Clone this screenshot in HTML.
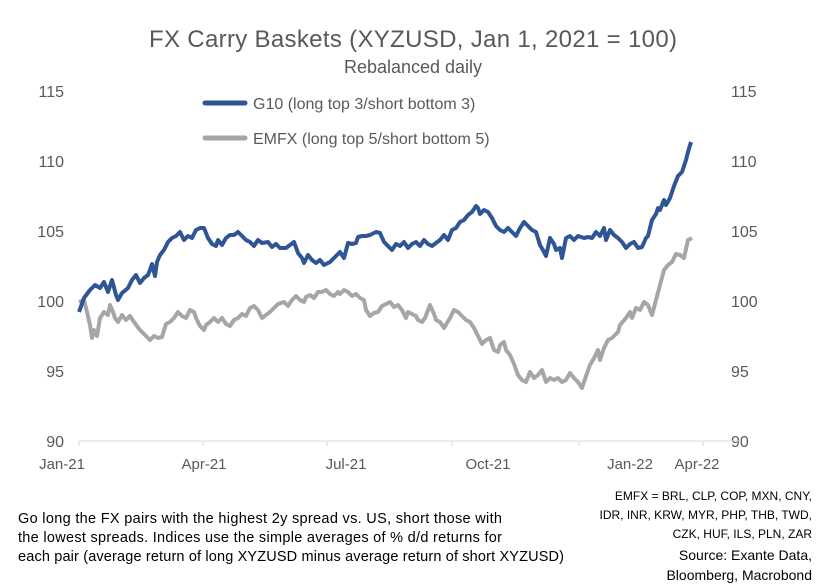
<!DOCTYPE html>
<html><head><style>
body{margin:0;background:#fff;width:826px;height:583px;overflow:hidden}
text{font-family:"Liberation Sans",sans-serif;fill:#595959}
</style></head><body>
<svg width="826" height="583" xmlns="http://www.w3.org/2000/svg">
<text x="413" y="47" font-size="24" text-anchor="middle" textLength="528">FX Carry Baskets (XYZUSD, Jan 1, 2021 = 100)</text>
<text x="413" y="73" font-size="18" text-anchor="middle">Rebalanced daily</text>
<g font-size="16" text-anchor="end">
<text x="64" y="97">115</text><text x="64" y="167">110</text><text x="64" y="237">105</text><text x="64" y="307">100</text><text x="64" y="377">95</text><text x="64" y="447">90</text>
</g>
<g font-size="16">
<text x="731" y="97">115</text><text x="731" y="167">110</text><text x="731" y="237">105</text><text x="731" y="307">100</text><text x="731" y="377">95</text><text x="731" y="447">90</text>
</g>
<line x1="79" y1="441" x2="741" y2="441" stroke="#d9d9d9" stroke-width="1"/>
<g stroke="#d9d9d9"><line x1="79" y1="441" x2="79" y2="446"/><line x1="203" y1="441" x2="203" y2="446"/><line x1="327" y1="441" x2="327" y2="446"/><line x1="452" y1="441" x2="452" y2="446"/><line x1="579" y1="441" x2="579" y2="446"/><line x1="703" y1="441" x2="703" y2="446"/></g>
<g font-size="15" text-anchor="middle">
<text x="62" y="469">Jan-21</text><text x="204" y="469">Apr-21</text><text x="346" y="469">Jul-21</text><text x="488" y="469">Oct-21</text><text x="630" y="469">Jan-22</text><text x="697" y="469">Apr-22</text>
</g>
<line x1="205" y1="103" x2="245" y2="103" stroke="#2f5597" stroke-width="5" stroke-linecap="round"/>
<text x="253" y="109" font-size="16">G10 (long top 3/short bottom 3)</text>
<line x1="205" y1="138" x2="245" y2="138" stroke="#a6a6a6" stroke-width="5" stroke-linecap="round"/>
<text x="253" y="144" font-size="16">EMFX (long top 5/short bottom 5)</text>
<polyline fill="none" stroke="#a6a6a6" stroke-width="4" stroke-linejoin="round" points="79,302 84,300 87,312 90,325 92,338 94,330 97,336 100,318 104,312 108,315 110,305 113,312 115,318 118,322 122,315 126,320 130,316 134,322 140,330 144,334 148,338 150,340 154,336 158,338 162,337 166,324 170,322 174,318 178,312 182,316 186,318 190,310 194,312 196,318 200,326 204,330 206,325 210,322 214,318 218,322 222,318 226,324 230,326 234,320 238,318 242,314 246,316 250,308 254,306 258,310 262,318 266,315 270,312 274,308 278,304 284,302 288,306 292,300 296,296 300,300 304,302 306,297 310,295 314,298 318,292 322,292 326,290 330,294 334,296 338,292 340,294 344,290 348,292 352,296 356,294 360,298 364,300 366,310 370,316 374,313 378,312 382,306 386,304 390,302 394,307 398,305 402,310 406,318 408,312 412,314 416,316 418,320 422,322 425,318 430,305 434,314 436,320 440,322 444,328 450,318 454,310 458,312 462,316 466,320 470,322 474,328 478,336 482,344 486,340 490,338 494,350 498,352 500,345 504,342 506,350 510,355 514,364 518,375 522,380 526,382 530,372 534,378 538,375 542,370 546,382 550,378 554,380 558,378 562,382 566,380 570,373 574,378 578,382 582,388 586,376 590,365 594,358 598,350 600,360 604,348 608,340 612,338 618,332 620,325 626,318 630,312 632,318 636,308 640,310 644,302 648,305 652,315 656,300 660,285 664,270 668,265 672,262 676,254 680,255 684,258 688,240 692,238"/>
<polyline fill="none" stroke="#2f5597" stroke-width="4" stroke-linejoin="round" points="79,312 84,298 90,290 95,285 100,288 104,282 108,292 112,280 116,295 118,300 122,293 128,288 132,280 136,275 140,283 144,278 148,275 150,270 152,264 155,276 157,262 160,255 164,250 168,242 172,238 176,236 180,232 184,240 188,236 192,238 196,230 200,228 204,228 208,238 212,244 216,246 218,240 222,245 226,238 230,235 234,235 238,232 242,236 246,240 250,242 254,246 258,240 262,243 268,242 272,247 276,244 280,248 286,248 290,245 294,242 298,253 302,258 304,263 308,255 312,260 316,263 320,260 324,265 330,262 334,258 340,252 344,258 348,243 352,244 356,243 358,237 362,236 366,236 370,235 376,232 380,233 384,242 388,246 392,250 396,244 400,246 404,242 408,248 412,244 416,242 420,246 424,240 428,244 432,246 436,243 440,240 444,235 448,240 452,230 456,228 460,222 464,220 468,215 472,212 476,206 478,208 480,214 484,210 488,212 492,218 496,226 500,230 504,232 508,228 512,232 516,236 520,228 524,222 528,226 532,230 536,232 540,245 544,252 546,256 550,238 554,244 556,250 560,248 562,258 566,238 570,236 574,240 578,236 584,238 588,237 592,238 596,232 600,236 604,228 606,240 610,230 614,235 618,238 622,242 626,248 630,244 634,242 638,248 642,247 646,238 648,236 652,220 656,214 658,208 660,210 664,200 666,205 670,198 674,186 678,176 682,172 686,160 688,152 691,142"/>
<g font-size="14.5"><text x="18" y="523" style="fill:#000" textLength="484">Go long the FX pairs with the highest 2y spread vs. US, short those with</text>
<text x="18" y="542" style="fill:#000" textLength="484">the lowest spreads. Indices use the simple averages of % d/d returns for</text>
<text x="18" y="561" style="fill:#000" textLength="546">each pair (average return of long XYZUSD minus average return of short XYZUSD)</text></g>
<g font-size="12" text-anchor="end"><text x="812" y="500" style="fill:#000">EMFX = BRL, CLP, COP, MXN, CNY,</text>
<text x="812" y="519" style="fill:#000">IDR, INR, KRW, MYR, PHP, THB, TWD,</text>
<text x="812" y="538" style="fill:#000">CZK, HUF, ILS, PLN, ZAR</text></g>
<g font-size="14" text-anchor="end"><text x="812" y="560" style="fill:#000">Source: Exante Data,</text>
<text x="812" y="580" style="fill:#000">Bloomberg, Macrobond</text></g>
</svg>
</body></html>
